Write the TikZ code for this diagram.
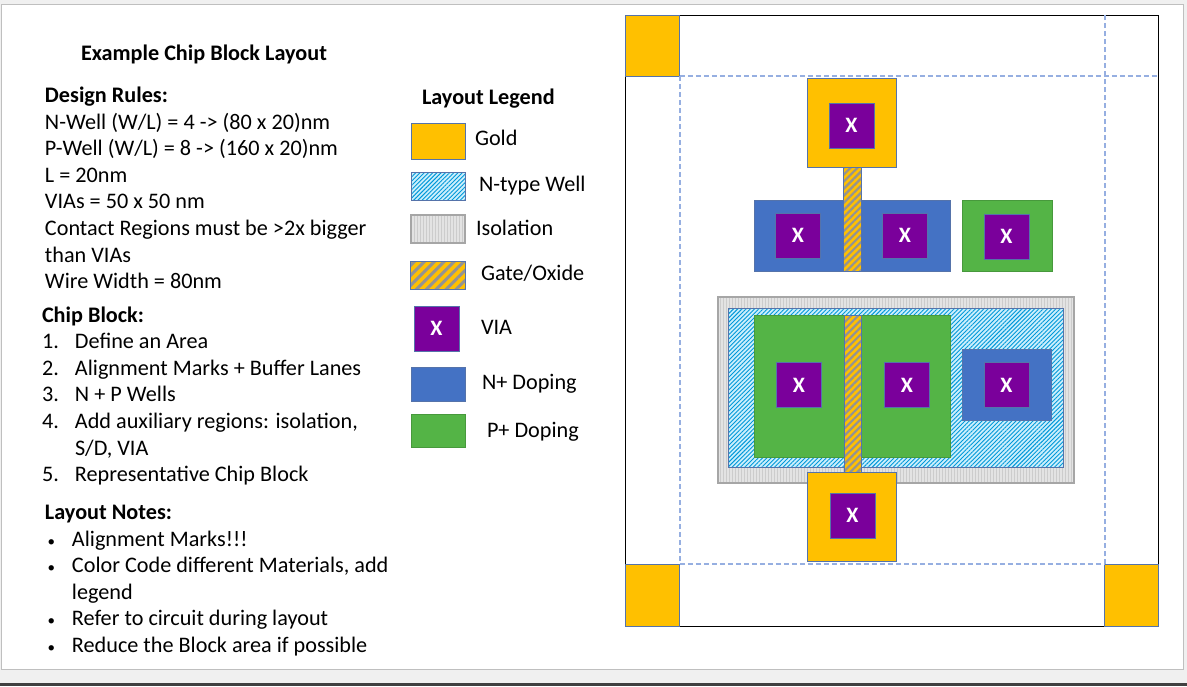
\documentclass[tikz,border=0pt]{standalone}
\usepackage{fontspec}
\setmainfont{Carlito}
\usetikzlibrary{patterns.meta}
\definecolor{goldcolor}{RGB}{255,192,0}
\definecolor{bluecolor}{RGB}{68,114,196}
\definecolor{greencolor}{RGB}{84,180,70}
\definecolor{viacolor}{RGB}{122,0,155}
\definecolor{edgecolor}{RGB}{85,115,170}
\definecolor{dashcolor}{RGB}{150,175,225}
\newcommand{\nitem}[1]{\makebox[33pt][l]{#1}}
\newcommand{\bitem}{\makebox[27pt][l]{\kern2.5pt\fontsize{15}{15}\selectfont\textbullet}}

\begin{document}
\begin{tikzpicture}[x=1pt,y=-1pt,inner sep=0pt,outer sep=0pt]
 \tikzstyle{box}=[draw=edgecolor,line width=1pt]
 \tikzstyle{gold}=[box,fill=goldcolor]
 \tikzstyle{nplus}=[box,fill=bluecolor]
 \tikzstyle{pplus}=[box,draw=greencolor!85!black,fill=greencolor]
 \tikzstyle{via}=[box,fill=viacolor,text=white,minimum size=45pt,font=\fontsize{22}{22}\selectfont\bfseries]
 \tikzstyle{gate}=[box,preaction={fill=goldcolor},pattern={Lines[angle=45,distance=5pt,line width=2.2pt]},pattern color=gray!85]
 \tikzstyle{well}=[draw=edgecolor,line width=1pt,preaction={fill=cyan!20!white},pattern={Lines[angle=45,distance=3pt,line width=.9pt]},pattern color=blue!30!cyan!85!black]
 \tikzstyle{isolation}=[draw=gray!70,line width=1.5pt,preaction={fill=gray!22},pattern={Lines[angle=90,distance=3pt,line width=.8pt]},pattern color=gray!40]
 \tikzstyle{label}=[anchor=west,font=\fontsize{22.2}{22.2}\selectfont]
 \tikzstyle{block}=[anchor=north west,align=left,font=\fontsize{22.2}{26.6}\selectfont]

   % page
   \fill[gray!12] (0,0) rectangle (1187,686);
   \fill[black!75] (0,683) rectangle (1187,686);
   \node[draw=gray!50,fill=white,line width=1pt,minimum width=1182pt,minimum height=665pt] (panel) at (592,336.5) {};

   % text column
   \node[label,font=\fontsize{22.2}{22.2}\selectfont\bfseries] (title) at (81,54.5) {Example Chip Block Layout};
   \node[block] (rules) at (45,87) {\textbf{Design Rules:}\\
     N-Well (W/L) = 4 -> (80 x 20)nm\\
     P-Well (W/L) = 8 -> (160 x 20)nm\\
     L = 20nm\\
     VIAs = 50 x 50 nm\\
     Contact Regions must be >2x bigger\\
     than VIAs\\
     Wire Width = 80nm};
   \node[block] (steps) at (42,306.5) {\textbf{Chip Block:}\\
     \nitem{1.}Define an Area\\
     \nitem{2.}Alignment Marks + Buffer Lanes\\
     \nitem{3.}N + P Wells\\
     \nitem{4.}Add auxiliary regions: isolation,\\
     \nitem{}S/D, VIA\\
     \nitem{5.}Representative Chip Block};
   \node[block] (notes) at (45,505) {\textbf{Layout Notes:}\\
     \bitem Alignment Marks!!!\\
     \bitem Color Code different Materials, add\\
     \makebox[27pt]{}legend\\
     \bitem Refer to circuit during layout\\
     \bitem Reduce the Block area if possible};

   % legend
   \node[label,font=\fontsize{22.2}{22.2}\selectfont\bfseries] (legend) at (422,99) {Layout Legend};
   \node[gold,minimum width=54pt,minimum height=36pt] (lgold) at (438,141) {};
   \node[well,minimum width=54pt,minimum height=28pt] (lwell) at (438,186) {};
   \node[isolation,minimum width=54pt,minimum height=28pt] (liso) at (438,229) {};
   \node[gate,pattern={Lines[angle=45,distance=7pt,line width=3pt]},minimum width=55pt,minimum height=28pt] (lgate) at (437.5,275) {};
   \node[via] (lvia) at (436.5,328.5) {X};
   \node[nplus,minimum width=54pt,minimum height=34pt] (lnplus) at (438,384) {};
   \node[pplus,minimum width=54pt,minimum height=33pt] (lpplus) at (438,430.5) {};
   \node[label] at (475,138) {Gold};
   \node[label] at (479,185.5) {N-type Well};
   \node[label] at (476,227.5) {Isolation};
   \node[label] at (481,273) {Gate/Oxide};
   \node[label] at (481,327.5) {VIA};
   \node[label] at (482,383.5) {N+ Doping};
   \node[label] at (487,431.5) {P+ Doping};

   % chip frame, alignment marks and buffer lanes
   \node[draw=black,line width=1pt,minimum width=533pt,minimum height=611pt] (frame) at (892.45,320.5) {};
   \node[gold,minimum width=54pt,minimum height=61pt] (markNW) at (652.95,45.5) {};
   \node[gold,minimum width=54pt,minimum height=62pt] (markSW) at (652.95,595) {};
   \node[gold,minimum width=54pt,minimum height=62pt] (markSE) at (1131.95,595) {};
   \tikzstyle{lane}=[dashcolor,line width=1.2pt,dash pattern=on 5pt off 3pt]
   \draw[lane] (markNW.south east) -- (markNW.south east -| frame.east);
   \draw[lane] (markSW.north east) -- (markSE.north west);
   \draw[lane] (markNW.south east) -- (markSW.north east);
   \draw[lane] (markSE.north west) -- (markSE.north west |- frame.north);

   % upper row
   \node[nplus,minimum width=196pt,minimum height=71pt] (ntop) at (852,235.5) {};
   \node[pplus,minimum width=90pt,minimum height=71pt] (ptop) at (1007,235.5) {};
   \node[gate,minimum width=18pt,minimum height=104pt] (gatetop) at (852,219) {};
   \node[gold,minimum width=89pt,minimum height=89pt] (padtop) at (851.5,122.5) {};
   \node[via] (viatop) at (851.5,125.5) {X};
   \node[via] (vian1) at (798,235.5) {X};
   \node[via] (vian2) at (905,235.5) {X};
   \node[via] (viap1) at (1006.5,236.5) {X};

   % lower row
   \node[isolation,minimum width=356pt,minimum height=186pt] (iso) at (896,390) {};
   \node[well,minimum width=335pt,minimum height=159pt] (nwell) at (895.5,387.5) {};
   \node[pplus,minimum width=196pt,minimum height=142pt] (pbot) at (852,386) {};
   \node[nplus,minimum width=89pt,minimum height=71pt] (nbot) at (1006.5,384.5) {};
   \node[gate,minimum width=17pt,minimum height=157pt] (gatebot) at (852.5,393.5) {};
   \node[gold,minimum width=89pt,minimum height=89pt] (padbot) at (851.5,516.5) {};
   \node[via] (viap2) at (799,385) {X};
   \node[via] (viap3) at (907,385) {X};
   \node[via] (vian3) at (1006.5,385) {X};
   \node[via] (viabot) at (852.5,515.5) {X};

\end{tikzpicture}
\end{document}
